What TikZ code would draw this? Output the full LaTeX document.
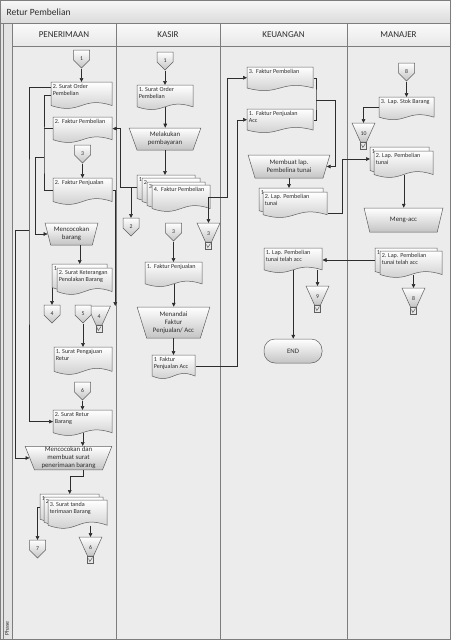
\documentclass[tikz,border=0pt]{standalone}
\usepackage{fontspec}
\setmainfont{Carlito}
\usepackage{tikz}
\usetikzlibrary{arrows.meta,calc,shapes.geometric}
\definecolor{bgpane}{RGB}{236,236,236}
\definecolor{lanel}{RGB}{125,125,125}
\definecolor{shapel}{RGB}{95,95,95}
\definecolor{shadel}{RGB}{196,196,196}
\definecolor{inkc}{RGB}{45,45,45}
% document shape: name, left, top, width, height, text
\newcommand{\docu}[6]{%
  \pgfmathsetmacro{\dxr}{#2+#4}
  \pgfmathsetmacro{\dxm}{#2+0.5*#4}
  \pgfmathsetmacro{\dye}{#3+0.84*#5}
  \pgfmathsetmacro{\dyh}{#3+0.48*#5}
  \pgfmathsetmacro{\dyl}{#3+1.2*#5}
  \path[docfill] (#2,#3) -- (\dxr,#3) -- (\dxr,\dye)
    .. controls (\dxm,\dyh) and (\dxm,\dyl) .. (#2,\dye) -- cycle;
  \node[doctext, anchor=north west] (#1) at (#2,#3)
    {\parbox[c][\dimexpr#5pt*84/100-4pt\relax][t]{\dimexpr#4pt-3pt\relax}{\raggedright #6}};
}
% off-page connector: name, centre x, top, text
\newcommand{\offpg}[4]{%
  \path[docfill] (#2-8,#3) -- (#2+8,#3) -- (#2+8,#3+10) -- (#2,#3+18) -- (#2-8,#3+10) -- cycle;
  \node[smalltext, minimum width=16pt, minimum height=18pt, anchor=north] (#1) at (#2,#3) {\raisebox{2pt}{#4}};
}
% storage: name, centre x, top, half width, text
\newcommand{\store}[5]{%
  \path[docfill] (#2-#4,#3) -- (#2+#4,#3) -- (#2+3,#3+19) -- (#2-3,#3+19) -- cycle;
  \draw[draw=shapel, fill=gray!18] (#2-3,#3+19) rectangle (#2+3,#3+26);
  \draw[draw=shapel] (#2-2,#3+21.5) -- (#2-0.7,#3+24.5) -- (#2+2,#3+20.5);
  \node[smalltext, minimum width=2*#4 pt, minimum height=26pt, anchor=north] (#1) at (#2,#3) {\raisebox{6pt}{#5}};
}

\begin{document}
\begin{tikzpicture}[x=1pt, y=-1pt, line width=0.5pt,
         >={Triangle[length=4pt,width=3.6pt]}]
  \tikzstyle{docfill}=[draw=shapel, top color=white, bottom color=shadel]
  \tikzstyle{doctext}=[inner ysep=2pt, inner xsep=1.5pt, font=\fontsize{6.1}{7.4}\selectfont, text=inkc]
  \tikzstyle{smalltext}=[inner sep=0pt, font=\fontsize{5.8}{6.4}\selectfont, text=inkc]
  \tikzstyle{manop}=[trapezium, trapezium left angle=72, trapezium right angle=72,
     shape border rotate=180, trapezium stretches=true, draw=shapel,
     top color=white, bottom color=shadel, align=center, inner sep=1pt,
     font=\fontsize{6.8}{7.8}\selectfont, text=inkc]
  \tikzstyle{termin}=[rectangle, rounded corners=11pt, draw=shapel, top color=white,
     bottom color=shadel, minimum width=58pt, minimum height=24pt,
     font=\fontsize{6.8}{7.8}\selectfont, text=inkc]
  \tikzstyle{flowline}=[->, draw=inkc]
  \tikzstyle{plainline}=[draw=inkc]
  \tikzstyle{lanehead}=[font=\fontsize{9}{10}\selectfont, text=inkc]
\useasboundingbox (0,0) rectangle (451,640);
% frame and lanes
\fill[bgpane] (0,0) rectangle (451,640);
\shade[top color=white!94!gray, bottom color=gray!28] (0,0) rectangle (451,23);
\shade[top color=white!96!gray, bottom color=gray!18] (12,23) rectangle (451,46);
\fill[gray!22] (0,23) rectangle (12,640);
\draw[lanel] (0.5,0.5) rectangle (450.5,639.5);
\draw[lanel] (0,23) -- (451,23);
\draw[lanel] (12,46) -- (451,46);
\draw[lanel] (3.5,23) -- (3.5,640);
\foreach \lx in {12,116,220,347} \draw[lanel] (\lx,23) -- (\lx,640);
\node[anchor=west, font=\fontsize{9.5}{11}\selectfont, text=inkc] (tRet) at (3,12) {Retur Pembelian};
\node[lanehead] (hPen) at (64,34.5) {PENERIMAAN};
\node[lanehead] (hKas) at (168,34.5) {KASIR};
\node[lanehead] (hKeu) at (283.5,34.5) {KEUANGAN};
\node[lanehead] (hMan) at (398.5,34.5) {MANAJER};
\node[smalltext, rotate=90, anchor=west] (tPhs) at (7,636) {Phase};

% PENERIMAAN
\offpg{pC1}{81.5}{50}{1}
\docu{pSO2}{51}{82}{61}{28}{2. Surat Order\\Pembelian}
\docu{pFB2}{53}{117}{59}{27}{2.\ \ Faktur Pembelian}
\offpg{pC3}{82.5}{145}{3}
\docu{pFJ2}{53}{178}{59}{28}{2.\ \ Faktur Penjualan}
\node[manop, minimum width=53pt, minimum height=22pt] (pMB) at (71.5,234) {Mencocokan\\barang};
\docu{pSKa}{52}{264}{55}{28}{1}
\docu{pSK}{57}{268}{55}{28}{2. Surat Keterangan\\Penolakan Barang}
\offpg{pC4}{52}{305}{4}
\store{pST4}{99}{306}{11.5}{4}
\offpg{pC5}{83}{305}{5}
\docu{pSP}{54}{347}{58}{29}{1. Surat Pengajuan\\Retur}
\offpg{pC6}{82.5}{382}{6}
\docu{pSR}{53}{410}{59}{27}{2. Surat Retur\\Barang}
\node[manop, minimum width=87pt, minimum height=23pt] (pMD) at (68.5,458) {Mencocokan dan\\membuat surat\\penerimaan barang};
\docu{pSTa}{40}{494}{59}{30}{1}
\docu{pSTb}{44}{497}{59}{30}{2}
\docu{pST}{48}{500}{59}{30}{3. Surat tanda\\terimaan Barang}
\offpg{pC7}{37.5}{540}{7}
\store{pST6}{90.5}{537}{11.5}{6}

% KASIR
\offpg{kC1}{165}{52}{1}
\docu{kSO1}{137}{85}{56}{26}{1. Surat Order\\Pembelian}
\node[manop, minimum width=72pt, minimum height=22pt] (kMP) at (165,139) {Melakukan\\pembayaran};
\docu{kFBa}{137}{175}{58}{28}{1}
\docu{kFBb}{142}{178}{58}{28}{2}
\docu{kFBc}{147}{182}{58}{28}{3}
\docu{kFB}{152}{185}{58}{28}{4.\ \ Faktur Pembelian}
\offpg{kC2}{131}{218}{2}
\offpg{kC3}{173.5}{223}{3}
\store{kST3}{208.5}{223}{11.5}{3}
\docu{kFJ1}{145}{262}{57}{26}{1.\ \ Faktur Penjualan}
\node[manop, minimum width=73pt, minimum height=31pt] (kMF) at (173.5,322.5) {Menandai\\Faktur\\Penjualan/ Acc};
\docu{kFA}{152}{355}{43}{25}{1\ \ Faktur\\Penjualan Acc}

% KEUANGAN
\docu{uFB3}{247}{67}{66}{25}{3.\ \ Faktur Pembelian}
\docu{uFA}{247}{109}{66}{25}{1.\ \ Faktur Penjualan\\Acc}
\node[manop, minimum width=82pt, minimum height=23pt] (uMB) at (289,166.5) {Membuat lap.\\Pembelina tunai};
\docu{uLPa}{259}{188}{64}{27}{1}
\docu{uLP}{263}{192}{64}{27}{2. Lap. Pembelian\\tunai}
\docu{uLA}{264}{248}{58}{26}{1. Lap. Pembelian\\tunai telah acc}
\store{uST9}{317.5}{286}{11.5}{9}
\node[termin] (uEnd) at (293,351) {END};

% MANAJER
\offpg{mC8}{406.5}{63}{8}
\docu{mLS}{379}{97}{55}{24}{3.\ \ Lap. Stok Barang}
\store{mST10}{363.5}{123}{11.5}{10}
\docu{mLPa}{370}{147}{59}{28}{1}
\docu{mLP}{374}{151}{59}{28}{2. Lap. Pembelian\\tunai}
\node[manop, minimum width=79pt, minimum height=24pt] (mMA) at (403.5,220) {Meng-acc};
\docu{mLAa}{375}{248}{62}{28}{1}
\docu{mLA}{380}{251}{62}{28}{2. Lap. Pembelian\\tunai telah acc}
\store{mST8}{413.5}{288}{11.5}{8}

% connectors: penerimaan
\coordinate (pJa) at (29,230);
\coordinate (pJb) at (15,230);
\coordinate (pJc) at (44,157);
\coordinate (pJd) at (35,157);
\path (pC1.south) edge[flowline] (pC1.south |- pSO2.north)
      (pC3.south) edge[flowline] (pC3.south |- pFJ2.north)
      (pC5.south) edge[flowline] (pC5.south |- pSP.north)
      (pC6.south) edge[flowline] (pC6.south |- pSR.north)
      (pSKa.north |- pMB.south) edge[flowline] (pSKa.north)
      (pSR.south) edge[flowline] (pSR.south |- pMD.north)
      (pST6.north |- pST.south) edge[flowline] (pST6.north);
\draw[flowline] ([yshift=-5pt]pSO2.north west) -| (pJa) |- (pSR.west);
\draw[flowline] (pJa) -- (pJb) |- (pMD.west);
\draw[plainline] ([yshift=-13pt]pSO2.north west) -| (pJc) |- (pFJ2.west);
\draw[plainline] (pFB2.west) -- (pFB2.west -| pJc);
\draw[flowline] (pJc) -- (pJd) |- (pMB.west);
\draw[flowline] (pFJ2.east) -| ([xshift=4.5pt]pST4.north east);
\draw[flowline] (pSKa.south west) -- (pSKa.south west |- pC4.north);
\draw[flowline] (pSR.south |- pMD.south) -- ++(0,6) -| (pSTa.north);
\draw[flowline] (pSTa.west) -| (pC7.north);

% connectors: kasir
\path (kC1.south) edge[flowline] (kC1.south |- kSO1.north)
      (kSO1.south) edge[flowline] (kSO1.south |- kMP.north)
      (kMP.south) edge[flowline] (kMP.south |- kFBa.north)
      (kC3.south) edge[flowline] (kC3.south |- kFJ1.north)
      (kFJ1.south) edge[flowline] (kFJ1.south |- kMF.north)
      (kMF.south) edge[flowline] (kMF.south |- kFA.north);
\draw[flowline] (kFBa.west) -- ++(-17,0) |- (pFB2.east);
\draw[flowline] (kFBa.west) -| (kC2.north);
\draw[flowline] (kFB.east) -| (kST3.north);
\draw[flowline] (kFB.east) -- ++(17,0) |- (uFB3.west);
\draw[flowline] (kFA.east) -- ++(42,0) |- (uFA.west);

% connectors: keuangan
\coordinate (uJa) at (316,100);
\coordinate (uJb) at (335,100);
\draw[plainline] (uFB3.east) -| (uJa) |- (uFA.east);
\draw[flowline] (uJa) -- (uJb) |- (uMB.east);
\path (uMB.south) edge[flowline] (uMB.south |- uLPa.north)
      (uLA.south) edge[flowline] (uLA.south |- uEnd.north)
      (uST9.north |- uLA.south) edge[flowline] (uST9.north);
\draw[flowline] ([yshift=-21pt]uLP.north east) -- ++(15,0) |- (mLPa.west);

% connectors: manajer
\path (mC8.south) edge[flowline] (mC8.south |- mLS.north)
      (mLP.south) edge[flowline] (mLP.south |- mMA.north)
      (mST8.north |- mLA.south) edge[flowline] (mST8.north);
\draw[flowline] (mLS.west) -| (mST10.north);
\draw[flowline] (mLAa.west) -- (mLAa.west -| uLA.east);
\end{tikzpicture}
\end{document}
